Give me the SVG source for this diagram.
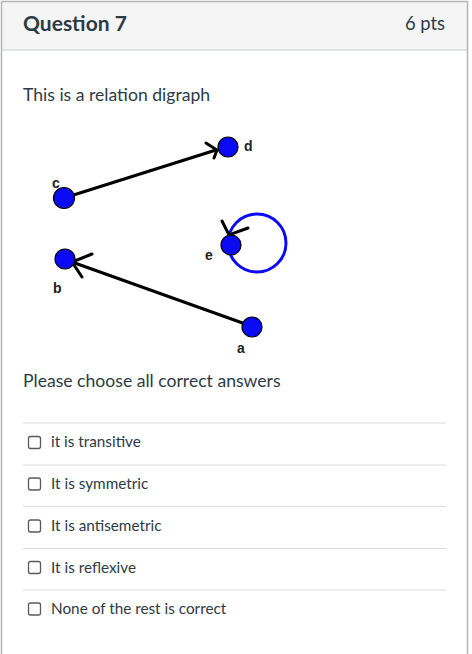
<svg xmlns="http://www.w3.org/2000/svg" width="472" height="654" viewBox="0 0 472 654">
<style>
.t{font-family:Lato,"Liberation Sans",sans-serif;fill:#2d3b45}
.node{fill:#0a0af5;stroke:#000;stroke-width:1.2}
.lbl{font-family:"Liberation Sans",Arial,sans-serif;font-weight:bold;font-size:14px;fill:#222}
.edge{stroke:#000;stroke-width:3;fill:none;stroke-linecap:round}
.sep{stroke:#dcdcdc;stroke-width:1}
.cb{fill:#fff;stroke:#5a5a5a;stroke-width:1.3}
.ans{font-size:15.3px}
</style>
<rect x="0" y="0" width="472" height="654" fill="#fff"/>
<rect x="1" y="1" width="467" height="49" fill="#f5f5f5"/>
<line x1="1" y1="50" x2="468" y2="50" stroke="#c7cdd1"/>
<path d="M1.5,654 V1.5 H467.5 V654" fill="none" stroke="#b4b4b4" stroke-width="1.5"/>
<text class="t" x="23" y="31" font-size="21" font-weight="bold">Question 7</text>
<text class="t" x="445" y="30" font-size="18.4" text-anchor="end" fill="#4a5a66">6 pts</text>
<text class="t" x="23" y="101" font-size="17.6">This is a relation digraph</text>

<g id="connectors">
<line class="edge" x1="64" y1="198" x2="216" y2="150"/>
<path class="edge" d="M206,143 L217,150 L214,158" stroke-width="2.5"/>
<line class="edge" x1="251" y1="326" x2="72" y2="262"/>
<path class="edge" d="M92,254 L72,262 L82,277" stroke-width="2.5"/>
<circle cx="257" cy="243" r="29" fill="none" stroke="#0a0af5" stroke-width="3"/>
<path class="edge" d="M222,221 L229,235 L248,228" stroke-width="2.5"/>
</g>

<g id="node-c"><circle class="node" cx="64" cy="198" r="10.5"/><text class="lbl" x="52" y="188">c</text></g>
<g id="node-d"><circle class="node" cx="228" cy="147" r="10"/><text class="lbl" x="244" y="151">d</text></g>
<g id="node-e"><circle class="node" cx="231" cy="245" r="10"/><text class="lbl" x="205" y="260">e</text></g>
<g id="node-b"><circle class="node" cx="65" cy="259" r="10"/><text class="lbl" x="53" y="293">b</text></g>
<g id="node-a"><circle class="node" cx="252" cy="327" r="10"/><text class="lbl" x="237" y="353">a</text></g>

<text class="t" x="23" y="387" font-size="17.6">Please choose all correct answers</text>

<line class="sep" x1="23" y1="423" x2="446" y2="423"/>
<rect class="cb" x="28.5" y="436.5" width="12" height="12" rx="2"/>
<text class="t ans" x="51" y="447">it is transitive</text>
<line class="sep" x1="23" y1="465" x2="446" y2="465"/>
<rect class="cb" x="28.5" y="478" width="12" height="12" rx="2"/>
<text class="t ans" x="51" y="489">It is symmetric</text>
<line class="sep" x1="23" y1="506.5" x2="446" y2="506.5"/>
<rect class="cb" x="28.5" y="520" width="12" height="12" rx="2"/>
<text class="t ans" x="51" y="531">It is antisemetric</text>
<line class="sep" x1="23" y1="548.5" x2="446" y2="548.5"/>
<rect class="cb" x="28.5" y="561.5" width="12" height="12" rx="2"/>
<text class="t ans" x="51" y="572.5">It is reflexive</text>
<line class="sep" x1="23" y1="590" x2="446" y2="590"/>
<rect class="cb" x="28.5" y="603" width="12" height="12" rx="2"/>
<text class="t ans" x="51" y="614">None of the rest is correct</text>
</svg>
